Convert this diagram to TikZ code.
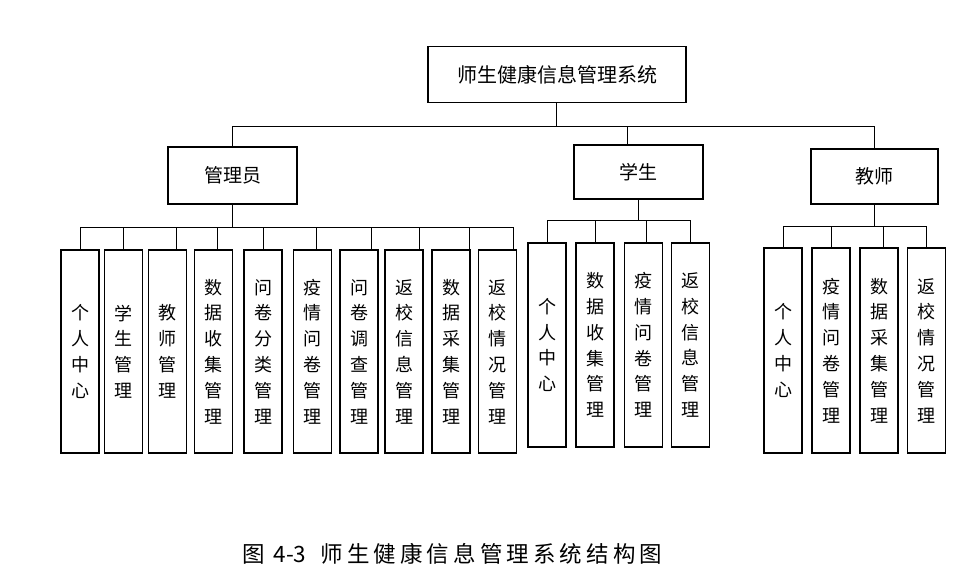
\documentclass[tikz,border=0pt]{standalone}
\usepackage{fontspec}
\setmainfont{Noto Sans CJK SC}
\tikzset{
	box/.style={draw, line width=1.3pt, inner sep=0pt, align=center},
	leaf/.style={box, minimum width=38pt, font=\fontsize{18}{25.8}\selectfont},
	link/.style={line width=1pt},
}
\begin{document}
\begin{tikzpicture}[x=1pt, y=-1pt]
	\useasboundingbox (0,0) rectangle (954,582);
	% 系统（根）
	\node[box, minimum width=258pt, minimum height=56pt, font=\fontsize{20}{24}\selectfont] (root) at (557,74.5) {师生健康信息管理系统};
	% 三个角色
	\node[box, minimum width=129pt, minimum height=57pt, font=\fontsize{19}{23}\selectfont] (admin) at (232.5,175.5) {管理员};
	\node[box, minimum width=129pt, minimum height=54pt, font=\fontsize{19}{23}\selectfont] (student) at (638.5,172) {学生};
	\node[box, minimum width=127pt, minimum height=55pt, font=\fontsize{19}{23}\selectfont] (teacher) at (874.5,176.5) {教师};
	% 根到角色的连线
	\coordinate (topbus) at (556,126);
	\draw[link] ([xshift=-1pt]root.south) -- (topbus);
	\draw[link] (admin.north) |- (topbus);
	\draw[link] ([xshift=-11.5pt]student.north) |- (topbus);
	\draw[link] (teacher.north) |- (topbus);
	% 管理员的功能
	\coordinate (abus) at (232.5,227);
	\draw[link] (admin.south) -- (abus);
	\foreach \x/\dx/\txt [count=\i] in {80/0/{个\\人\\中\\心}, 123.5/0/{学\\生\\管\\理}, 167.5/8.5/{教\\师\\管\\理},
		213.5/3.5/{数\\据\\收\\集\\管\\理}, 263/0/{问\\卷\\分\\类\\管\\理}, 312.5/3.5/{疫\\情\\问\\卷\\管\\理},
		359/12/{问\\卷\\调\\查\\管\\理}, 404/15/{返\\校\\信\\息\\管\\理}, 451/18/{数\\据\\采\\集\\管\\理},
		497.5/15.5/{返\\校\\情\\况\\管\\理}}{
		\node[leaf, minimum height=203pt] (a\i) at (\x,351.5) {\txt};
		\draw[link] ([xshift=\dx pt]a\i.north) |- (abus);
	}
	% 学生的功能
	\coordinate (sbus) at (638.5,220);
	\draw[link] (student.south) -- (sbus);
	\foreach \x/\dx/\txt [count=\i] in {547/0/{个\\人\\中\\心}, 595/0/{数\\据\\收\\集\\管\\理},
		643.5/2.5/{疫\\情\\问\\卷\\管\\理}, 690.5/0/{返\\校\\信\\息\\管\\理}}{
		\node[leaf, minimum height=204pt] (s\i) at (\x,345) {\txt};
		\draw[link] ([xshift=\dx pt]s\i.north) |- (sbus);
	}
	% 教师的功能
	\coordinate (tbus) at (874.5,226);
	\draw[link] (teacher.south) -- (tbus);
	\foreach \x/\dx/\txt [count=\i] in {783/0/{个\\人\\中\\心}, 831/0/{疫\\情\\问\\卷\\管\\理},
		879/4/{数\\据\\采\\集\\管\\理}, 926.5/0/{返\\校\\情\\况\\管\\理}}{
		\node[leaf, minimum height=205pt] (t\i) at (\x,350.5) {\txt};
		\draw[link] ([xshift=\dx pt]t\i.north) |- (tbus);
	}
	% 图题
	\node[inner sep=0pt, anchor=west, font=\fontsize{22.5}{26}\selectfont] (caption) at (242,554)
		{图\hspace{9pt}4-3\hspace{12pt}\foreach \c in {师,生,健,康,信,息,管,理,系,统,结,构,图}{\makebox[26.6pt]{\c}}};
\end{tikzpicture}
\end{document}
